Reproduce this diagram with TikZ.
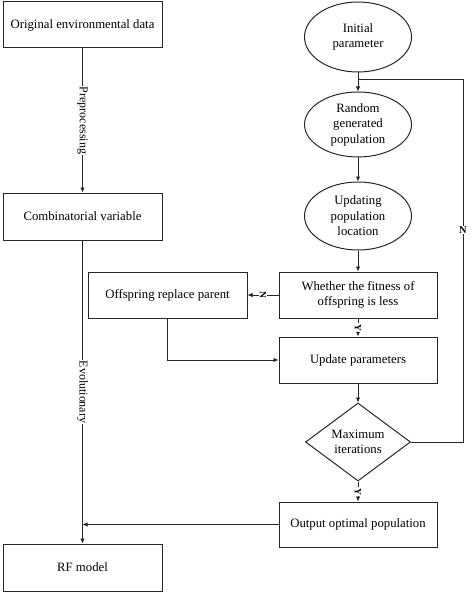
\documentclass[tikz,border=0pt]{standalone}
\usepackage{fontspec}
\setmainfont{Liberation Serif}
\usetikzlibrary{shapes.geometric,arrows.meta}
\begin{document}
\begin{tikzpicture}[x=1bp,y=-1bp,
  every node/.style={font=\fontsize{12.8}{15.5}\selectfont, text=black},
  boxnode/.style={draw=black!85, line width=1pt, rectangle, minimum width=159bp, minimum height=46bp, inner sep=0pt, align=center},
  ellnode/.style={draw=black!85, line width=1pt, ellipse, minimum width=107bp, inner sep=0pt, align=center},
  dianode/.style={draw=black!85, line width=1pt, diamond, aspect=1.35, minimum width=105bp, minimum height=78bp, inner sep=0pt, align=center},
  conn/.style={draw=black!85, line width=0.8pt},
  arr/.style={conn, -{Latex[length=5bp,width=4.5bp]}},
  lab/.style={font=\fontsize{12}{13}\selectfont, fill=white, inner sep=1pt, rotate=-90},
  yn/.style={font=\fontsize{9.5}{10}\bfseries\selectfont, fill=white, inner sep=1pt}
]
\useasboundingbox (0,0) rectangle (474,596);
% left column
\node[boxnode] (orig) at (82.5,25) {Original environmental data};
\node[boxnode, minimum height=47bp] (comb) at (82.5,216.5) {Combinatorial variable};
\node[boxnode, minimum height=47bp] (rf) at (82.5,567.5) {RF model};
% right column
\node[ellnode, minimum height=70bp] (init) at (358,37) {Initial\\parameter};
\node[ellnode, minimum height=65bp] (rand) at (358,124.5) {Random\\generated\\population};
\node[ellnode, minimum height=68bp] (upd) at (358,216) {Updating\\population\\location};
\node[boxnode, minimum width=158bp] (whe) at (358,295) {Whether the fitness of\\offspring is less};
\node[boxnode] (offs) at (167.5,295) {Offspring replace parent};
\node[boxnode, minimum width=158bp] (updp) at (358,360) {Update parameters};
\node[dianode] (maxit) at (358,442) {Maximum\\iterations};
\node[boxnode, minimum width=158bp, minimum height=45bp] (outp) at (358,524.5) {Output optimal population};
% coordinates
\coordinate (j) at (358,79);
\coordinate (fb) at (463,79);
\coordinate (fbb) at (463,442);
\coordinate (mrg) at (82.5,524.5);
% connectors
\draw[arr] (orig) -- node[lab] {Preprocessing} (comb);
\draw[arr] (comb) -- node[lab, pos=0.5] {Evolutionary} (rf);
\draw[arr] (init) -- (rand);
\draw[arr] (rand) -- (upd);
\draw[arr] (upd) -- (whe);
\draw[arr] (whe) -- node[yn, rotate=-90] {Y} (updp);
\draw[arr] (updp) -- (maxit.north);
\draw[arr] (maxit.south) -- node[yn, rotate=-90] {Y} (outp);
\draw[arr] (whe.west) -- node[yn, rotate=-90] {N} (offs.east);
\draw[arr] (offs.south) |- (updp.west);
\draw[conn] (maxit.east) -- (fbb) -- (fb) -- (j);
\node[yn, font=\fontsize{10.5}{11}\bfseries\selectfont] (nlab) at (463,230) {N};
\draw[arr] (outp.west) -- (mrg);
\end{tikzpicture}
\end{document}
